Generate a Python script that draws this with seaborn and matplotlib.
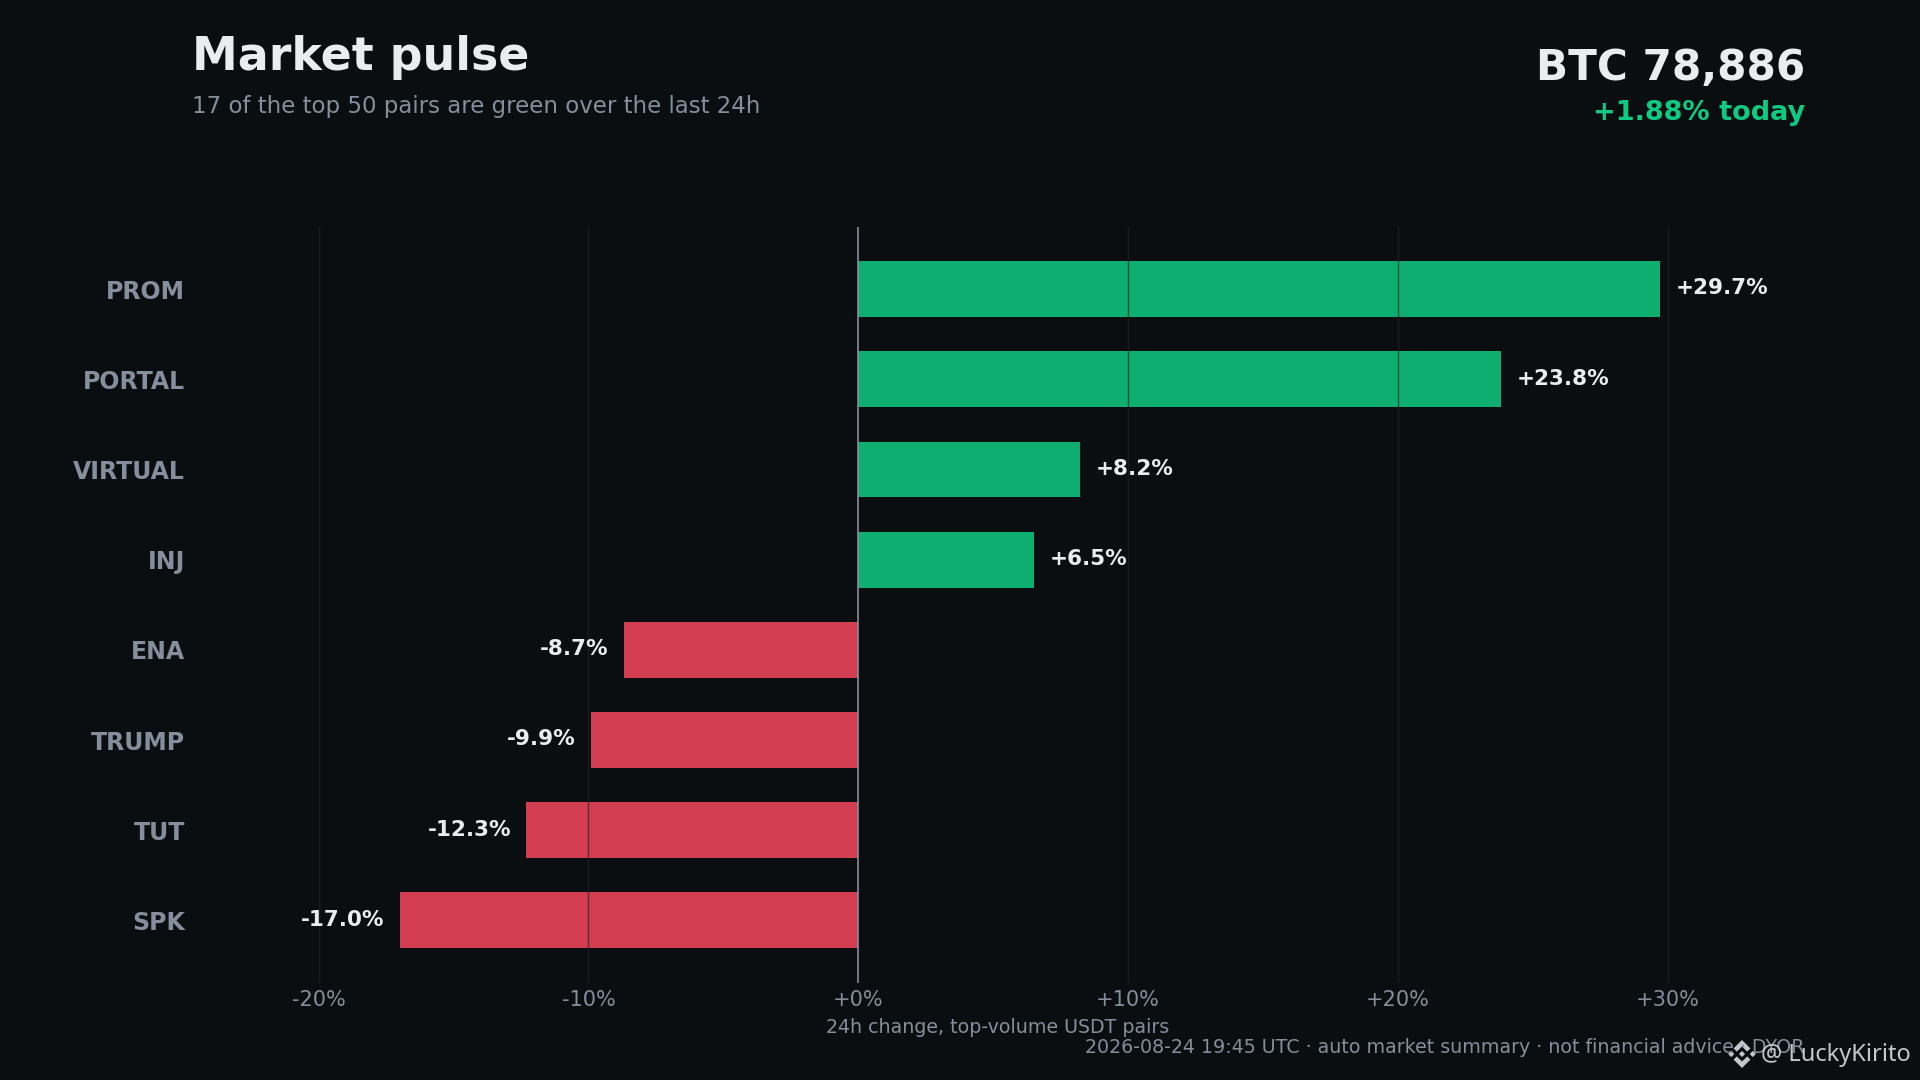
import matplotlib
matplotlib.use("Agg")
import matplotlib.pyplot as plt
from matplotlib.patches import Polygon
import pandas as pd
import seaborn as sns

# dados
symbols = ["PROM", "PORTAL", "VIRTUAL", "INJ", "ENA", "TRUMP", "TUT", "SPK"]
changes = [29.7, 23.8, 8.2, 6.5, -8.7, -9.9, -12.3, -17.0]
tick_values = [-20, -10, 0, 10, 20, 30]
tick_labels = ["-20%", "-10%", "+0%", "+10%", "+20%", "+30%"]

BG = "#0b0e11"
GREEN = "#0ecb81"
RED = "#f6465d"
GREY = "#848e9c"
WHITE = "#eaecef"
MARK = "#c4c8cd"

sns.set_theme(style="dark", rc={"figure.facecolor": BG, "axes.facecolor": BG})
plt.rcParams["font.family"] = ["DejaVu Sans"]

df = pd.DataFrame({"symbol": symbols, "change": changes})
df["side"] = ["up" if c > 0 else "down" for c in changes]

W, H = 1920, 1080
fig = plt.figure(figsize=(W / 100, H / 100), dpi=100, facecolor=BG)
ax = fig.add_axes([192 / W, 1 - 982.5 / H, (1805 - 192) / W, (982.5 - 226.5) / H])
ax.set_facecolor(BG)

sns.barplot(data=df, x="change", y="symbol", hue="side", dodge=False, legend=False,
            palette={"up": GREEN, "down": RED}, width=0.62, saturation=1, alpha=0.85,
            linewidth=0, ax=ax, zorder=2)

ax.set_xlim(-24.69, 35.08)
ax.set_ylim(7.689, -0.695)
ax.set_xticks(tick_values)
ax.set_xticklabels(tick_labels)
ax.set_xlabel("")
ax.set_ylabel("")
for s in ax.spines.values():
    s.set_visible(False)
ax.grid(False)
# grade por cima das barras, como no original
for v in tick_values:
    if v != 0:
        ax.axvline(v, color="#1e2329", lw=1, zorder=3, alpha=0.65)
ax.axvline(0, color=GREY, lw=1.2, zorder=4)

ax.tick_params(axis="x", length=0, pad=5.5, labelsize=15, labelcolor=GREY)
ax.tick_params(axis="y", length=0, pad=5, labelsize=17, labelcolor=GREY)
for t in ax.get_yticklabels():
    t.set_fontweight("bold")

for i, c in enumerate(changes):
    label = f"{c:+.1f}%"
    off = 11.8 if c > 0 else -11
    ax.annotate(label, (c, i), xytext=(off, 0.5), textcoords="offset points",
                ha="left" if c > 0 else "right", va="center",
                color=WHITE, fontsize=15.5, fontweight="bold", zorder=5)

fig.text(192 / W, 1 - 57 / H, "Market pulse", color=WHITE, fontsize=33, fontweight="bold",
         ha="left", va="center")
fig.text(192 / W, 1 - 106 / H, "17 of the top 50 pairs are green over the last 24h", color=GREY,
         fontsize=16.5, ha="left", va="center")
fig.text(1805 / W, 1 - 68 / H, "BTC 78,886", color=WHITE, fontsize=30.3, fontweight="bold",
         ha="right", va="center")
fig.text(1805 / W, 1 - 113 / H, "+1.88% today", color=GREEN, fontsize=19.5, fontweight="bold",
         ha="right", va="center")
fig.text(998 / W, 1 - 1027.6 / H, "24h change, top-volume USDT pairs", color=GREY, fontsize=13.7,
         ha="center", va="center")
fig.text(1804.5 / W, 1 - 1047.6 / H, "2026-08-24 19:45 UTC \u00b7 auto market summary \u00b7 not financial advice \u00b7 DYOR",
         color=GREY, fontsize=13.7, ha="right", va="center")
fig.text(1911 / W, 1 - 1055 / H, "@ LuckyKirito", color=MARK, fontsize=17, ha="right",
         va="center", family="Noto Sans")

# icone do watermark (losangos no estilo do logo)
ICON_X, ICON_Y, ICON_R = 1742, 1054, 14
icon_shapes = [
    [(0, -1), (0.6, -0.4), (0.37, -0.17), (0, -0.53), (-0.37, -0.17), (-0.6, -0.4)],
    [(0, 1), (0.6, 0.4), (0.37, 0.17), (0, 0.53), (-0.37, 0.17), (-0.6, 0.4)],
    [(0, -0.22), (0.22, 0), (0, 0.22), (-0.22, 0)],
    [(-0.77, -0.22), (-0.55, 0), (-0.77, 0.22), (-0.99, 0)],
    [(0.77, -0.22), (0.99, 0), (0.77, 0.22), (0.55, 0)],
]
for shape in icon_shapes:
    pts = [((ICON_X + x * ICON_R) / W, 1 - (ICON_Y + y * ICON_R) / H) for x, y in shape]
    fig.add_artist(Polygon(pts, closed=True, transform=fig.transFigure, color=MARK, lw=0))

fig.savefig("out.png", dpi=100, facecolor=BG)
